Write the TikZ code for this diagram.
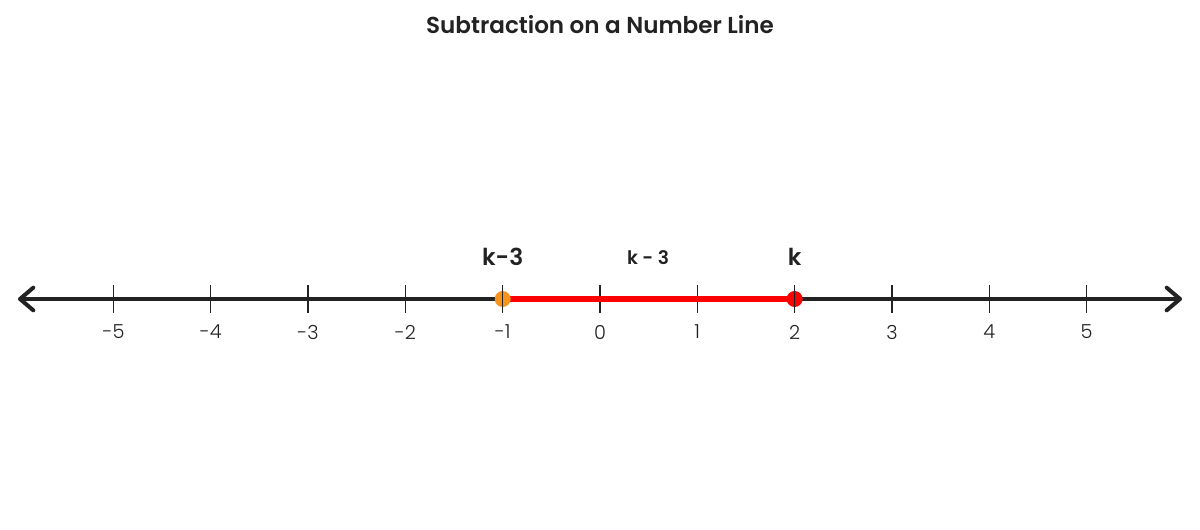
\documentclass[tikz,border=0pt]{standalone}
\usepackage{fontspec}
\setmainfont{Poppins}
\newfontfamily\medfont{Poppins Medium}
\newfontfamily\semifont{Poppins SemiBold}
\newfontfamily\lightfont{Poppins Light}
\usetikzlibrary{arrows.meta,calc}
\definecolor{ink}{HTML}{222222}
\definecolor{segred}{HTML}{FF0000}
\definecolor{dotorange}{HTML}{F7941D}
\begin{document}
\begin{tikzpicture}[x=0.75pt,y=-0.75pt,
  axis/.style={draw=ink,line width=3pt,{Straight Barb[length=10pt,width=17pt,line cap=round,line join=round]}-{Straight Barb[length=10pt,width=17pt,line cap=round,line join=round]}},
  tickmark/.style={draw=ink,line width=1pt},
  numlabel/.style={text=ink,font=\fontsize{14.5}{16}\lightfont,inner sep=0pt},
  seg/.style={draw=segred,line width=4.5pt},
  pt/.style={circle,inner sep=0pt,minimum size=12pt},
  biglabel/.style={text=ink,font=\fontsize{17.5}{20}\semifont,inner sep=0pt},
  midlabel/.style={text=ink,font=\fontsize{14}{16}\semifont,inner sep=0pt},
  titlestyle/.style={text=ink,font=\fontsize{17.3}{20}\semifont,inner sep=0pt}]
\useasboundingbox (0,0) rectangle (1200,530);
\node[titlestyle] (title) at (600,25) {Subtraction on a Number Line};
\coordinate (L) at (18,299);
\coordinate (R) at (1182,299);
\draw[axis] (L) -- (R);
\foreach \n in {-5,...,5} {
  \coordinate (t\n) at ({600+97.3*\n},299);
  \draw[tickmark] ($(t\n)+(0,-14)$) -- ($(t\n)+(0,14)$);
  \node[numlabel] (n\n) at ($(t\n)+(0,33)$) {\n};
}
\draw[seg] (t-1) -- (t2);
\node[pt,fill=dotorange] (a) at (t-1) {};
\node[pt,fill=segred] (b) at (t2) {};
\draw[tickmark] ($(t-1)+(0,-14)$) -- ($(t-1)+(0,14)$);
\draw[tickmark] ($(t2)+(0,-14)$) -- ($(t2)+(0,14)$);
\node[biglabel] (la) at ($(t-1)+(0,-42)$) {k-3};
\node[biglabel] (lb) at ($(t2)+(0,-42)$) {k};
\node[midlabel] (lm) at (648,258) {k - 3};
\end{tikzpicture}
\end{document}
